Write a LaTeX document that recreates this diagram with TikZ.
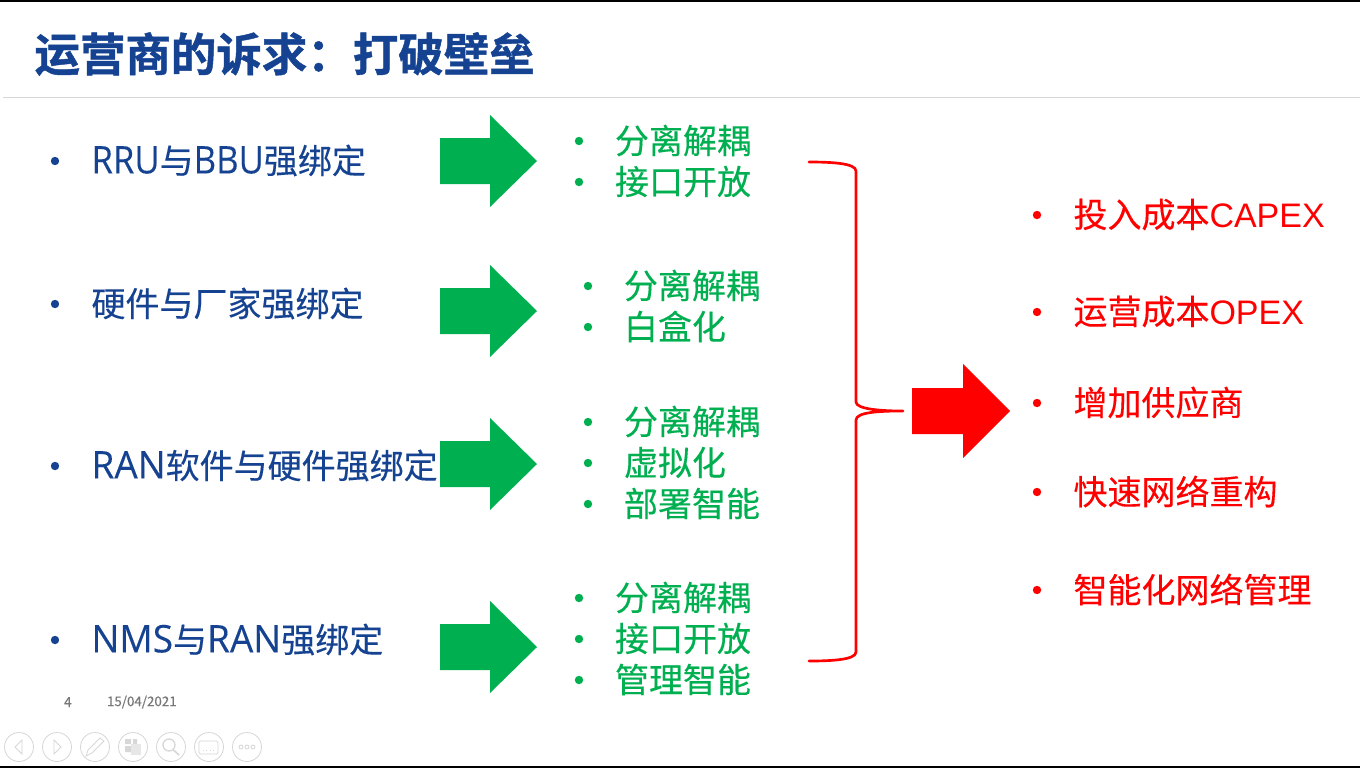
\documentclass[tikz,border=0pt]{standalone}
\usepackage{fontspec}
\setmainfont[FakeBold=0.25]{Noto Sans CJK SC}
\newfontfamily\titlef[FakeBold=1]{Noto Sans CJK SC Bold}
\newfontfamily\latR[FakeBold=0.2,FakeStretch=0.91]{Open Sans}
\newfontfamily\latN[FakeBold=0.2,FakeStretch=0.97]{Open Sans}
\newfontfamily\latA{Liberation Sans}
\newcommand{\latr}[1]{{\latR\fontsize{28.6pt}{30pt}\selectfont #1}}
\newcommand{\latn}[1]{{\latN\fontsize{28.6pt}{30pt}\selectfont #1}}
\newcommand{\lata}[1]{{\latA #1}}
\definecolor{navy}{RGB}{21,67,146}
\definecolor{grn}{RGB}{0,176,80}
\definecolor{navgray}{RGB}{215,215,215}
\definecolor{foot}{RGB}{120,120,120}
\tikzset{
 every node/.style={inner sep=0pt,outer sep=0pt},
 txt/.style={anchor=west,font=\fontsize{25.5pt}{30pt}\selectfont},
 lefttxt/.style={txt,text=navy},
 grntxt/.style={txt,text=grn},
 redtxt/.style={txt,text=red},
 navbtn/.style={circle,draw=navgray,line width=0.6pt,minimum size=29*0.75pt,fill=white},
 navline/.style={draw=navgray,line width=0.6pt}
}
\begin{document}
\begin{tikzpicture}[x=0.75pt,y=-0.75pt]
\useasboundingbox (0,0) rectangle (1360,768);
\fill[white] (0,0) rectangle (1360,768);
\fill[black] (0,0) rectangle (1360,1.5);
\fill[black] (0,766) rectangle (1360,768);
\draw[navgray,line width=0.75pt] (3,97.5) -- (1360,97.5);
\node[anchor=west,text=navy,font=\fontsize{34.1pt}{40pt}\selectfont\titlef] (title) at (34.5,54) {运营商的诉求：打破壁垒};
% left
\foreach \n/\y/\t in {a/161/\latr{RRU}与\latr{BBU}强绑定,b/304/硬件与厂家强绑定,c/466/\latn{RAN}软件与硬件强绑定,d/640/\latn{NMS}与\latn{RAN}强绑定}{
  \fill[navy] (55,\y) circle (4.2);
  \node[lefttxt] (l\n) at (91.5,\y-0.5) {\t};
}
% green arrows
\foreach \y in {161,311,464,647}{
  \fill[grn] (440,\y-23) -- (490,\y-23) -- (490,\y-46) -- (537,\y) -- (490,\y+46) -- (490,\y+23) -- (440,\y+23) -- cycle;
}
% green text
\foreach \n/\x/\y/\t in {a/616/141/分离解耦,b/616/182/接口开放,c/625/286/分离解耦,d/625/327/白盒化,e/625/422/分离解耦,f/625/463/虚拟化,g/625/504/部署智能,h/616/598/分离解耦,i/616/639/接口开放,j/616/680/管理智能}{
  \fill[grn] ({\x-37},\y) circle (4.2);
  \node[grntxt] (g\n) at (\x-1,\y-0.5) {\t};
}
% brace
\draw[red,line width=2pt,line cap=round,line join=round] (809,162) .. controls (830,162) and (856,163) .. (856,171) -- (856,402) .. controls (856,409) and (880,411) .. (903,411) .. controls (880,411) and (856,412) .. (856,420) -- (856,652) .. controls (856,660) and (830,661) .. (809,661);
% red arrow
\fill[red] (912,388) -- (963,388) -- (963,364) -- (1010,411) -- (963,458) -- (963,434) -- (912,434) -- cycle;
% red text
\foreach \n/\y/\t in {a/215/投入成本\lata{CAPEX},b/312/运营成本\lata{OPEX},c/403/增加供应商,d/492/快速网络重构,e/590/智能化网络管理}{
  \fill[red] (1037,\y) circle (4.2);
  \node[redtxt] (r\n) at (1073.5,\y-0.5) {\t};
}
% footer
\node[anchor=west,text=foot,font=\fontsize{10.5pt}{12pt}\selectfont] (pg) at (64,702) {4};
\node[anchor=west,text=foot,font=\fontsize{10pt}{12pt}\selectfont] (dt) at (107,702) {15/04/2021};
% nav buttons
\foreach \n/\x in {p/19,q/57,r/95,s/133,t/171,u/209,v/247}{
  \node[navbtn] (\n) at (\x,747) {};
}
\draw[navline] (22,740) -- (15,747) -- (22,754) -- cycle;
\draw[navline] (54,740) -- (61,747) -- (54,754) -- cycle;
\draw[navline] (86,756) -- (88,750) -- (100,738) -- (104,741) -- (92,753) -- cycle;
\fill[navgray] (125,739) rectangle (131,744) (133,739) rectangle (137,744) (125,746) rectangle (131,752);
\fill[navgray!60] (131,744) rectangle (141,755);
\draw[navline,line width=1pt] (169,745) circle (6);
\draw[navline,line width=1.2pt] (173.5,750) -- (179,755);
\draw[navline,rounded corners=1pt] (199,741) rectangle (218,754);
\draw[navline,dotted] (203,750) -- (215,750);
\foreach \x in {241,247,253} \draw[navline] (\x,747) circle (2);
\end{tikzpicture}
\end{document}
